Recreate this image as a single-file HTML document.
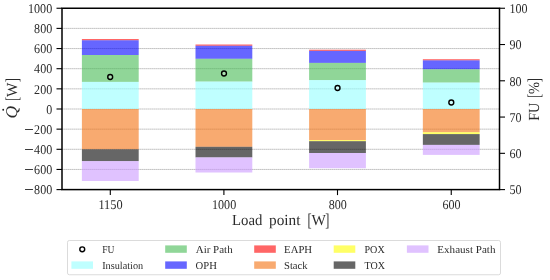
<!DOCTYPE html>
<html lang="en">
<head>
<meta charset="utf-8">
<title>Heat flows over load point</title>
<style>
html,body{margin:0;padding:0;background:#fff;}
body{width:550px;height:280px;overflow:hidden;}
svg{display:block;}
text{font-family:"Liberation Serif","DejaVu Serif",serif;fill:#2b2b2b;text-rendering:geometricPrecision;}
.tk{font-size:13.4px;}
.lb{font-size:15.4px;}
.bk{font-size:18px;}
.lg{font-size:10.6px;fill:#333;}
</style>
</head>
<body>
<svg width="550" height="280" viewBox="0 0 550 280">
<rect x="0" y="0" width="550" height="280" fill="#ffffff"/>

<g stroke="#b2b2b2" stroke-width="0.8" stroke-dasharray="1.7 0.3" fill="none">
<line x1="62.0" y1="169.45" x2="499.5" y2="169.45"/>
<line x1="62.0" y1="149.30" x2="499.5" y2="149.30"/>
<line x1="62.0" y1="129.15" x2="499.5" y2="129.15"/>
<line x1="62.0" y1="109.00" x2="499.5" y2="109.00"/>
<line x1="62.0" y1="88.85" x2="499.5" y2="88.85"/>
<line x1="62.0" y1="68.70" x2="499.5" y2="68.70"/>
<line x1="62.0" y1="48.55" x2="499.5" y2="48.55"/>
<line x1="62.0" y1="28.40" x2="499.5" y2="28.40"/>
</g>
<g shape-rendering="auto">
<rect x="81.90" y="39.00" width="56.80" height="1.30" fill="#ff0000" fill-opacity="0.6"/>
<rect x="81.90" y="40.30" width="56.80" height="14.70" fill="#0000ff" fill-opacity="0.6"/>
<rect x="81.90" y="55.00" width="56.80" height="26.90" fill="#46bb53" fill-opacity="0.6"/>
<rect x="81.90" y="81.90" width="56.80" height="27.10" fill="#94ffff" fill-opacity="0.6"/>
<rect x="81.90" y="109.00" width="56.80" height="40.30" fill="#f37111" fill-opacity="0.6"/>
<rect x="81.90" y="149.30" width="56.80" height="11.80" fill="#000000" fill-opacity="0.6"/>
<rect x="81.90" y="161.10" width="56.80" height="19.90" fill="#cb99ff" fill-opacity="0.6"/>
<rect x="195.50" y="44.50" width="56.80" height="1.30" fill="#ff0000" fill-opacity="0.6"/>
<rect x="195.50" y="45.80" width="56.80" height="13.00" fill="#0000ff" fill-opacity="0.6"/>
<rect x="195.50" y="58.80" width="56.80" height="22.80" fill="#46bb53" fill-opacity="0.6"/>
<rect x="195.50" y="81.60" width="56.80" height="27.40" fill="#94ffff" fill-opacity="0.6"/>
<rect x="195.50" y="109.00" width="56.80" height="37.80" fill="#f37111" fill-opacity="0.6"/>
<rect x="195.50" y="146.80" width="56.80" height="10.60" fill="#000000" fill-opacity="0.6"/>
<rect x="195.50" y="157.40" width="56.80" height="15.10" fill="#cb99ff" fill-opacity="0.6"/>
<rect x="309.10" y="49.70" width="56.80" height="1.20" fill="#ff0000" fill-opacity="0.6"/>
<rect x="309.10" y="50.90" width="56.80" height="12.00" fill="#0000ff" fill-opacity="0.6"/>
<rect x="309.10" y="62.90" width="56.80" height="17.20" fill="#46bb53" fill-opacity="0.6"/>
<rect x="309.10" y="80.10" width="56.80" height="28.90" fill="#94ffff" fill-opacity="0.6"/>
<rect x="309.10" y="109.00" width="56.80" height="31.10" fill="#f37111" fill-opacity="0.6"/>
<rect x="309.10" y="140.10" width="56.80" height="1.10" fill="#ffff00" fill-opacity="0.6"/>
<rect x="309.10" y="141.20" width="56.80" height="11.80" fill="#000000" fill-opacity="0.6"/>
<rect x="309.10" y="153.00" width="56.80" height="15.20" fill="#cb99ff" fill-opacity="0.6"/>
<rect x="422.85" y="59.20" width="56.80" height="1.20" fill="#ff0000" fill-opacity="0.6"/>
<rect x="422.85" y="60.40" width="56.80" height="8.90" fill="#0000ff" fill-opacity="0.6"/>
<rect x="422.85" y="69.30" width="56.80" height="13.30" fill="#46bb53" fill-opacity="0.6"/>
<rect x="422.85" y="82.60" width="56.80" height="26.40" fill="#94ffff" fill-opacity="0.6"/>
<rect x="422.85" y="109.00" width="56.80" height="23.20" fill="#f37111" fill-opacity="0.6"/>
<rect x="422.85" y="132.20" width="56.80" height="1.90" fill="#ffff00" fill-opacity="0.6"/>
<rect x="422.85" y="134.10" width="56.80" height="10.80" fill="#000000" fill-opacity="0.6"/>
<rect x="422.85" y="144.90" width="56.80" height="10.00" fill="#cb99ff" fill-opacity="0.6"/>
</g>
<g fill="#ffffff" fill-opacity="0.25" stroke="#000000" stroke-width="1.4">
<circle cx="110.2" cy="77.0" r="2.45"/>
<circle cx="224.0" cy="73.5" r="2.45"/>
<circle cx="337.55" cy="88.0" r="2.45"/>
<circle cx="451.3" cy="102.5" r="2.45"/>
</g>
<g stroke="#000" stroke-width="1.5" fill="none" stroke-linecap="square">
<rect x="62.0" y="8.25" width="437.50" height="181.35"/>
</g>
<g stroke="#000" stroke-width="1.1" fill="none">
<line x1="56.50" y1="189.60" x2="62.0" y2="189.60"/>
<line x1="56.50" y1="169.45" x2="62.0" y2="169.45"/>
<line x1="56.50" y1="149.30" x2="62.0" y2="149.30"/>
<line x1="56.50" y1="129.15" x2="62.0" y2="129.15"/>
<line x1="56.50" y1="109.00" x2="62.0" y2="109.00"/>
<line x1="56.50" y1="88.85" x2="62.0" y2="88.85"/>
<line x1="56.50" y1="68.70" x2="62.0" y2="68.70"/>
<line x1="56.50" y1="48.55" x2="62.0" y2="48.55"/>
<line x1="56.50" y1="28.40" x2="62.0" y2="28.40"/>
<line x1="56.50" y1="8.25" x2="62.0" y2="8.25"/>
<line x1="499.5" y1="189.60" x2="505.00" y2="189.60"/>
<line x1="499.5" y1="153.33" x2="505.00" y2="153.33"/>
<line x1="499.5" y1="117.06" x2="505.00" y2="117.06"/>
<line x1="499.5" y1="80.79" x2="505.00" y2="80.79"/>
<line x1="499.5" y1="44.52" x2="505.00" y2="44.52"/>
<line x1="499.5" y1="8.25" x2="505.00" y2="8.25"/>
<line x1="110.3" y1="189.6" x2="110.3" y2="195.10"/>
<line x1="223.9" y1="189.6" x2="223.9" y2="195.10"/>
<line x1="337.5" y1="189.6" x2="337.5" y2="195.10"/>
<line x1="451.25" y1="189.6" x2="451.25" y2="195.10"/>
</g>
<g class="tk">
<text x="52.2" y="194.35" text-anchor="end" textLength="18.1" lengthAdjust="spacingAndGlyphs">800</text>
<text x="33.45" y="194.35" text-anchor="end" textLength="9.0" lengthAdjust="spacingAndGlyphs" stroke="#2b2b2b" stroke-width="0.35">−</text>
<text x="52.2" y="174.20" text-anchor="end" textLength="18.1" lengthAdjust="spacingAndGlyphs">600</text>
<text x="33.45" y="174.20" text-anchor="end" textLength="9.0" lengthAdjust="spacingAndGlyphs" stroke="#2b2b2b" stroke-width="0.35">−</text>
<text x="52.2" y="154.05" text-anchor="end" textLength="18.1" lengthAdjust="spacingAndGlyphs">400</text>
<text x="33.45" y="154.05" text-anchor="end" textLength="9.0" lengthAdjust="spacingAndGlyphs" stroke="#2b2b2b" stroke-width="0.35">−</text>
<text x="52.2" y="133.90" text-anchor="end" textLength="18.1" lengthAdjust="spacingAndGlyphs">200</text>
<text x="33.45" y="133.90" text-anchor="end" textLength="9.0" lengthAdjust="spacingAndGlyphs" stroke="#2b2b2b" stroke-width="0.35">−</text>
<text x="52.2" y="113.75" text-anchor="end" textLength="6.0" lengthAdjust="spacingAndGlyphs">0</text>
<text x="52.2" y="93.60" text-anchor="end" textLength="18.1" lengthAdjust="spacingAndGlyphs">200</text>
<text x="52.2" y="73.45" text-anchor="end" textLength="18.1" lengthAdjust="spacingAndGlyphs">400</text>
<text x="52.2" y="53.30" text-anchor="end" textLength="18.1" lengthAdjust="spacingAndGlyphs">600</text>
<text x="52.2" y="33.15" text-anchor="end" textLength="18.1" lengthAdjust="spacingAndGlyphs">800</text>
<text x="52.2" y="13.00" text-anchor="end" textLength="24.2" lengthAdjust="spacingAndGlyphs">1000</text>
<text x="509.4" y="194.35" textLength="12.1" lengthAdjust="spacingAndGlyphs">50</text>
<text x="509.4" y="158.08" textLength="12.1" lengthAdjust="spacingAndGlyphs">60</text>
<text x="509.4" y="121.81" textLength="12.1" lengthAdjust="spacingAndGlyphs">70</text>
<text x="509.4" y="85.54" textLength="12.1" lengthAdjust="spacingAndGlyphs">80</text>
<text x="509.4" y="49.27" textLength="12.1" lengthAdjust="spacingAndGlyphs">90</text>
<text x="509.4" y="13.00" textLength="18.1" lengthAdjust="spacingAndGlyphs">100</text>
<text x="110.50" y="208.9" text-anchor="middle" textLength="24.2" lengthAdjust="spacingAndGlyphs">1150</text>
<text x="224.10" y="208.9" text-anchor="middle" textLength="24.2" lengthAdjust="spacingAndGlyphs">1000</text>
<text x="337.70" y="208.9" text-anchor="middle" textLength="18.1" lengthAdjust="spacingAndGlyphs">800</text>
<text x="451.45" y="208.9" text-anchor="middle" textLength="18.1" lengthAdjust="spacingAndGlyphs">600</text>
</g>
<g class="lb">
<text x="232.00" y="224.90" textLength="30.30" lengthAdjust="spacingAndGlyphs">Load</text>
<text x="269.10" y="224.90" textLength="31.40" lengthAdjust="spacingAndGlyphs">point</text>
<text x="307.49" y="225.90" class="bk" textLength="4.10" lengthAdjust="spacingAndGlyphs">[</text>
<text x="311.40" y="224.90" textLength="14.40" lengthAdjust="spacingAndGlyphs">W</text>
<text x="325.26" y="225.90" class="bk" textLength="4.10" lengthAdjust="spacingAndGlyphs">]</text>
<g transform="translate(17.1 118.0) rotate(-90)">
<text x="-0.60" y="0.20" textLength="12.60" lengthAdjust="spacingAndGlyphs" font-style="italic" font-size="16.4">Q</text>
<circle cx="8.3" cy="-13.9" r="0.95" fill="#222"/>
<text x="17.09" y="1.00" class="bk" textLength="4.10" lengthAdjust="spacingAndGlyphs">[</text>
<text x="21.00" y="0.00" textLength="14.40" lengthAdjust="spacingAndGlyphs">W</text>
<text x="35.86" y="1.00" class="bk" textLength="4.10" lengthAdjust="spacingAndGlyphs">]</text>
</g>
<g transform="translate(539.4 120.8) rotate(-90)">
<text x="0.00" y="0.00" textLength="18.00" lengthAdjust="spacingAndGlyphs">FU</text>
<text x="22.79" y="1.00" class="bk" textLength="4.10" lengthAdjust="spacingAndGlyphs">[</text>
<text x="26.70" y="0.00" textLength="12.00" lengthAdjust="spacingAndGlyphs">%</text>
<text x="38.46" y="1.00" class="bk" textLength="4.10" lengthAdjust="spacingAndGlyphs">]</text>
</g>
</g>
<rect x="67.5" y="240.5" width="433" height="34.25" rx="1.8" ry="1.8" fill="#ffffff" stroke="#dbdbdb" stroke-width="1"/>
<g class="lg">
<circle cx="82.25" cy="249.3" r="2.45" fill="#fff" stroke="#000" stroke-width="1.4"/>
<text x="102.2" y="253.1" textLength="12.2" lengthAdjust="spacingAndGlyphs">FU</text>
<rect x="71.4" y="261.4" width="21.6" height="7.4" fill="#94ffff" fill-opacity="0.6"/>
<text x="102.2" y="269.1" textLength="41.0" lengthAdjust="spacingAndGlyphs">Insulation</text>
<rect x="165.2" y="245.4" width="21.6" height="7.4" fill="#46bb53" fill-opacity="0.6"/>
<text x="195.7" y="253.1" textLength="37.0" lengthAdjust="spacingAndGlyphs">Air Path</text>
<rect x="165.2" y="261.4" width="21.6" height="7.4" fill="#0000ff" fill-opacity="0.6"/>
<text x="195.6" y="269.1" textLength="21.3" lengthAdjust="spacingAndGlyphs">OPH</text>
<rect x="254.2" y="245.4" width="21.6" height="7.4" fill="#ff0000" fill-opacity="0.6"/>
<text x="284.1" y="253.1" textLength="28.0" lengthAdjust="spacingAndGlyphs">EAPH</text>
<rect x="254.2" y="261.4" width="21.6" height="7.4" fill="#f37111" fill-opacity="0.6"/>
<text x="284.0" y="269.1" textLength="23.6" lengthAdjust="spacingAndGlyphs">Stack</text>
<rect x="333.7" y="245.4" width="21.6" height="7.4" fill="#ffff00" fill-opacity="0.6"/>
<text x="364.5" y="253.1" textLength="20.2" lengthAdjust="spacingAndGlyphs">POX</text>
<rect x="333.7" y="261.4" width="21.6" height="7.4" fill="#000000" fill-opacity="0.6"/>
<text x="364.5" y="269.1" textLength="20.4" lengthAdjust="spacingAndGlyphs">TOX</text>
<rect x="406.9" y="245.4" width="21.6" height="7.4" fill="#cb99ff" fill-opacity="0.6"/>
<text x="437.3" y="253.1" textLength="58.2" lengthAdjust="spacingAndGlyphs">Exhaust Path</text>
</g>
</svg>
</body>
</html>
